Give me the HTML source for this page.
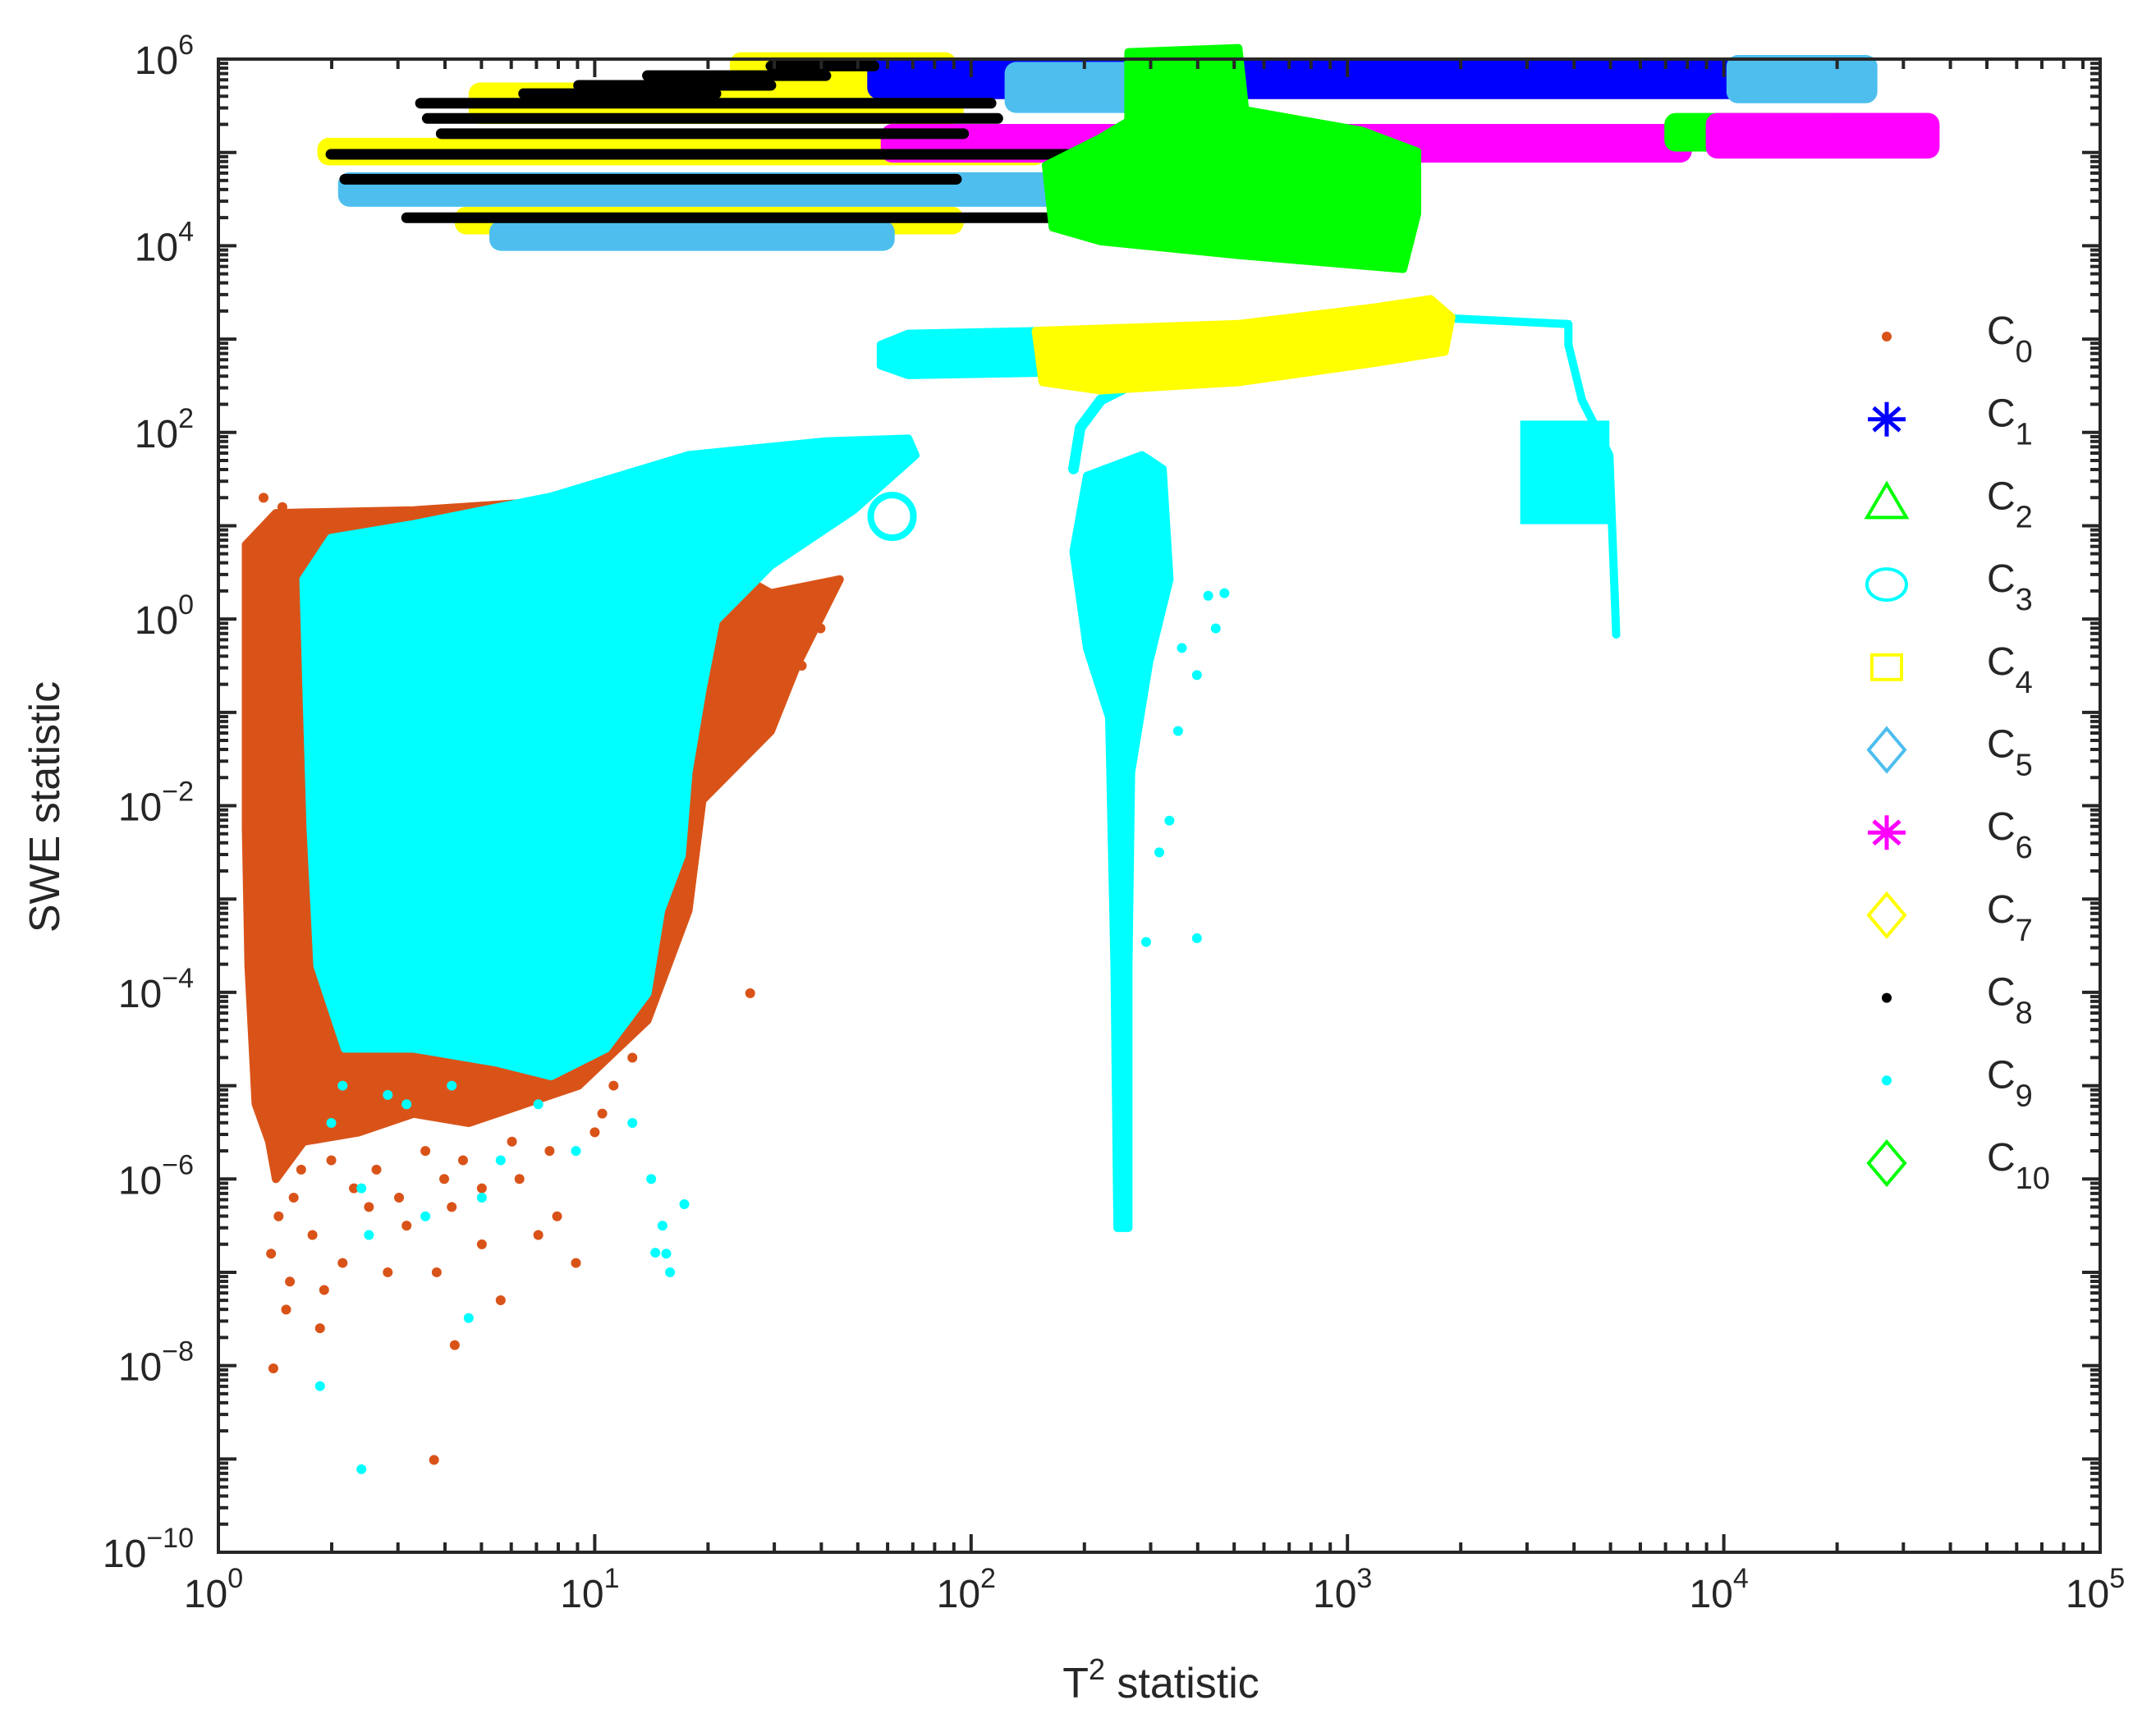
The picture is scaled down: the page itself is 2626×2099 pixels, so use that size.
<!DOCTYPE html>
<html><head><meta charset="utf-8"><style>
html,body{margin:0;padding:0;background:#fff;width:2626px;height:2099px;overflow:hidden}
svg{display:block}
text{font-family:"Liberation Sans",sans-serif;fill:#262626}
</style></head><body>
<svg id="chart" width="2626" height="2099" viewBox="0 0 2626 2099" xmlns="http://www.w3.org/2000/svg"></svg>
<script>
// ---- data (log10 values) ----
const xDecades = [0,1,2,3,4,5];
const yDecades = [-10,-8,-6,-4,-2,0,2,4,6];
const legendNames = ["0","1","2","3","4","5","6","7","8","9","10"];
// dense regions (log10 x, log10 y)
const c0RegionX = [0.073,0.153,0.519,0.957,1.140,1.468,1.651,1.541,1.468,1.286,1.249,1.140,0.957,0.811,0.665,0.519,0.373,0.226,0.153,0.135,0.099,0.080,0.073];
const c0RegionY = [0.795,1.135,1.165,1.283,1.017,0.277,0.425,-0.462,-1.201,-1.941,-3.124,-4.3,-5.0,-5.2,-5.4,-5.3,-5.5,-5.6,-6.0,-5.6,-5.194,-3.715,-2.237];
const c9RegionX = [0.226,0.299,0.519,0.884,1.249,1.614,1.833,1.852,1.687,1.468,1.322,1.286,1.249,1.231,1.176,1.140,1.030,0.884,0.738,0.519,0.336,0.263,0.245,0.234];
const c9RegionY = [0.425,0.869,1.017,1.312,1.756,1.904,1.933,1.756,1.165,0.573,-0.018,-0.758,-1.645,-2.532,-3.124,-4.011,-4.603,-4.898,-4.751,-4.603,-4.603,-3.715,-2.237,-0.758];
const streakX = [2.308,2.454,2.509,2.527,2.473,2.425,2.418,2.418,2.389,2.381,2.367,2.308,2.272];
const streakY = [1.534,1.756,1.608,0.425,-0.462,-1.645,-3.715,-6.525,-6.525,-3.715,-1.054,-0.314,0.721];
const curveX = [2.272,2.290,2.345,2.454,2.564,2.692];
const curveY = [1.608,2.052,2.348,2.570,2.673,2.717];
const rightLineX = [3.203,3.587,3.587,3.623,3.660,3.696,3.714];
const rightLineY = [3.235,3.161,2.939,2.348,2.052,1.756,-0.166];
const rightBlock = [3.459,3.696,1.017,2.126];
const c3BandX = [1.760,1.833,2.199,2.235,1.833,1.760];
const c3BandY = [2.939,3.057,3.087,2.643,2.614,2.717];
const c7BandX = [2.172,2.710,3.075,3.221,3.276,3.258,3.075,2.710,2.345,2.190];
const c7BandY = [3.087,3.161,3.339,3.428,3.235,2.865,2.747,2.539,2.451,2.539];
// top cluster rectangles [x1,x2,y1,y2] in log10
const c4Rects = [[0.263,2.199,4.862,5.157],[1.359,1.961,5.749,6.074],[0.665,1.980,5.305,5.749],[0.628,1.980,4.122,4.418]];
const c1Rects = [[1.724,4.061,5.571,6.015]];
const c5Rects = [[0.318,2.235,4.418,4.787],[0.720,1.797,3.945,4.270],[2.089,2.564,5.423,5.970],[4.007,4.408,5.527,6.044]];
const c6Rects = [[1.760,3.915,4.891,5.305],[3.952,4.573,4.935,5.423]];
const c2Rects = [[3.842,4.317,5.009,5.423]];
const c8LineY = [5.926,5.823,5.719,5.630,5.527,5.364,5.201,4.980,4.713,4.300];
const c8LineX1 = [1.468,1.140,0.957,0.811,0.537,0.555,0.592,0.299,0.336,0.500];
const c8LineX2 = [1.742,1.614,1.468,1.322,2.053,2.071,1.980,2.491,1.961,2.235];
const c10RegionX = [2.418,2.710,2.728,3.039,3.185,3.185,3.148,2.929,2.710,2.345,2.217,2.199,2.345,2.418];
const c10RegionY = [6.074,6.118,5.453,5.231,5.009,4.344,3.752,3.826,3.900,4.048,4.196,4.861,5.157,5.335];
// sparse points
const c0PtsX = [0.146,0.281,0.573,0.628,1.413,0.19,0.33,0.45,0.5,0.7,0.75,0.9,0.6,0.8,0.4,0.25,0.2,1.0,1.05,1.1,1.6,1.55,1.5,1.45,0.12,0.17,0.95,0.85,0.16,0.14,0.22,0.3,0.42,0.55,0.65,0.78,0.88,1.02,0.36,0.48,0.62,0.18,0.27,0.7,0.58];
const c0PtsY = [-8.03,-7.19,-9.01,-7.78,-4.01,-7.1,-6.9,-7.0,-6.5,-6.7,-7.3,-6.4,-6.0,-6.0,-6.3,-6.6,-6.2,-5.5,-5.0,-4.7,-0.1,-0.5,-0.2,-0.8,1.3,1.2,-6.9,-6.6,-6.4,-6.8,-5.9,-5.8,-5.9,-5.7,-5.8,-5.6,-5.7,-5.3,-6.1,-6.2,-6.3,-7.4,-7.6,-6.1,-7.0];
const c9PtsX = [0.380,0.27,0.665,1.161,1.238,2.60,2.465,2.673,2.63,2.527,2.56,2.60,2.65,2.55,2.5,0.38,0.55,0.75,1.2,0.95,1.15,0.3,0.5,1.18,1.19,0.33,0.45,0.62,0.85,1.1,0.4,0.7];
const c9PtsY = [-9.11,-8.22,-7.49,-6.79,-6.27,-3.42,-3.46,0.277,0.25,-2.16,-0.31,-0.6,-0.1,-1.2,-2.5,-6.1,-6.4,-5.8,-7.0,-5.7,-6.0,-5.4,-5.2,-6.5,-6.8,-5.0,-5.1,-5.0,-5.2,-5.4,-6.6,-6.2];
const c3Ring = [1.79,1.10];

// ---- axes ----
const L=266,R=2558,T=72,B=1891;
const xs = v => L + (v-0)/(5-0)*(R-L);
const ys = v => B - (v-(-10))/(6-(-10))*(B-T);
const NS="http://www.w3.org/2000/svg";
const svg=document.getElementById('chart');
function mk(tag,attrs,parent){const e=document.createElementNS(NS,tag);for(const k in attrs)e.setAttribute(k,attrs[k]);(parent||svg).appendChild(e);return e;}
const gData=mk('g',{});



function poly(xa,ya,fill,name){
  const pts=xa.map((x,i)=>xs(x).toFixed(1)+','+ys(ya[i]).toFixed(1)).join(' ');
  const p=mk('polygon',{points:pts,fill:fill,stroke:fill,'stroke-width':10,'stroke-linejoin':'round'},gData);
  
  
}
function line(xa,ya,color,w,name){
  const pts=xa.map((x,i)=>xs(x).toFixed(1)+','+ys(ya[i]).toFixed(1)).join(' ');
  const p=mk('polyline',{points:pts,fill:'none',stroke:color,'stroke-width':w,'stroke-linejoin':'round','stroke-linecap':'round'},gData);
  
  
}
function rects(arr,color,name){
  arr.forEach(r=>{
    const e=mk('rect',{x:xs(r[0]),y:ys(r[3]),width:xs(r[1])-xs(r[0]),height:ys(r[2])-ys(r[3]),fill:color,rx:14},gData);
    
    
  });
}
function pts(xa,ya,color,name){
  xa.forEach((x,i)=>{
    const c=mk('circle',{cx:xs(x),cy:ys(ya[i]),r:6,fill:color},gData);
    
    
  });
}
// lower clusters
poly(c0RegionX,c0RegionY,'#D95319','c0-dense-region');
pts(c0PtsX,c0PtsY,'#D95319','c0-point');
poly(c9RegionX,c9RegionY,'#00FFFF','c9-dense-region');
pts(c9PtsX,c9PtsY,'#00FFFF','c9-point');
poly(streakX,streakY,'#00FFFF','c9-vertical-streak');
line(curveX,curveY,'#00FFFF',13,'c9-curve');
line(rightLineX,rightLineY,'#00FFFF',10,'c9-right-line');
(function(){const e=mk('rect',{x:xs(rightBlock[0]),y:ys(rightBlock[3]),width:xs(rightBlock[1])-xs(rightBlock[0]),height:ys(rightBlock[2])-ys(rightBlock[3]),fill:'#00FFFF'},gData);

})();
(function(){const e=mk('circle',{cx:xs(c3Ring[0]),cy:ys(c3Ring[1]),r:26,fill:'none',stroke:'#00FFFF','stroke-width':8},gData);

})();
poly(c3BandX,c3BandY,'#00FFFF','c3-band');
poly(c7BandX,c7BandY,'#FFFF00','c7-band');
// top clusters
rects(c4Rects,'#FFFF00','c4-band');
rects(c1Rects,'#0000FF','c1-band');
rects(c5Rects,'#4DBEEE','c5-band');
rects(c6Rects,'#FF00FF','c6-band');
rects(c2Rects,'#00FF00','c2-band');
rects([c6Rects[1]],'#FF00FF','c6-band');
c8LineY.forEach((y,i)=>{
  const e=mk('line',{x1:xs(c8LineX1[i]),x2:xs(c8LineX2[i]),y1:ys(y),y2:ys(y),stroke:'#000','stroke-width':13,'stroke-linecap':'round'},gData);
  
  
});
poly(c10RegionX,c10RegionY,'#00FF00','c10-region');

// ---- axes box and ticks ----
const gAx=mk('g',{});


const box=mk('rect',{x:L,y:T,width:R-L,height:B-T,fill:'none',stroke:'#262626','stroke-width':4},gAx);


let tickPath='';
for(let d=0;d<5;d++){for(let m=1;m<10;m++){const x=xs(d+Math.log10(m));const len=m===1?22:12;
  tickPath+=`M${x},${B}v${-len}M${x},${T}v${len}`;}}
for(let d=-10;d<6;d++){for(let m=1;m<10;m++){const y=ys(d+Math.log10(m));const len=m===1?22:12;
  tickPath+=`M${L},${y}h${len}M${R},${y}h${-len}`;}}
const tp=mk('path',{d:tickPath,stroke:'#262626','stroke-width':4,fill:'none'},gAx);


xDecades.forEach(d=>{
  const t=mk('text',{x:xs(d)-6,y:1958,'font-size':48,'text-anchor':'middle'},gAx);
  
  
  t.innerHTML=`10<tspan dy="-24" font-size="34">${d}</tspan>`;
});
yDecades.forEach(d=>{
  const t=mk('text',{x:236,y:ys(d)+18,'font-size':48,'text-anchor':'end'},gAx);
  
  
  t.innerHTML=`10<tspan dy="-24" font-size="34">${d<0?'\u2212'+(-d):d}</tspan>`;
});
const xl=mk('text',{x:1414,y:2068,'font-size':52,'text-anchor':'middle'},gAx);


xl.innerHTML='T<tspan dy="-22" font-size="36">2</tspan><tspan dy="22"> statistic</tspan>';
const yl=mk('text',{x:0,y:0,'font-size':52,'text-anchor':'middle',transform:'translate(72,983) rotate(-90)'},gAx);


yl.textContent='SWE statistic';

// ---- legend ----
const gL=mk('g',{});


const legColors=['#D95319','#0000FF','#00FF00','#00FFFF','#FFFF00','#4DBEEE','#FF00FF','#FFFF00','#000000','#00FFFF','#00FF00'];
const legShapes=['dot','star','tri','circ','sq','dia','star','dia','dot','dot','dia'];
legendNames.forEach((n,i)=>{
  const cy=410+i*100.7, cx=2298, c=legColors[i];
  const g=mk('g',{},gL);
  
  
  const s=legShapes[i];let m;
  if(s==='dot') m=mk('circle',{cx,cy,r:6,fill:c},g);
  else if(s==='star') m=mk('path',{d:`M${cx-23},${cy}h46M${cx},${cy-21}v42M${cx-16},${cy-14}l32,28M${cx-16},${cy+14}l32,-28`,stroke:c,'stroke-width':5},g);
  else if(s==='tri') m=mk('polygon',{points:`${cx},${cy-22} ${cx+24},${cy+19} ${cx-24},${cy+19}`,fill:'none',stroke:c,'stroke-width':4},g);
  else if(s==='circ') m=mk('ellipse',{cx,cy,rx:24,ry:19,fill:'none',stroke:c,'stroke-width':4},g);
  else if(s==='sq') m=mk('rect',{x:cx-18,y:cy-15,width:36,height:30,fill:'none',stroke:c,'stroke-width':4},g);
  else m=mk('polygon',{points:`${cx},${cy-26} ${cx+22},${cy} ${cx},${cy+26} ${cx-22},${cy}`,fill:'none',stroke:c,'stroke-width':4},g);
  
  
  const t=mk('text',{x:2420,y:cy+9,'font-size':48},g);
  
  
  t.innerHTML=`C<tspan dy="22" font-size="38">${n}</tspan>`;
});
</script>
</body></html>
